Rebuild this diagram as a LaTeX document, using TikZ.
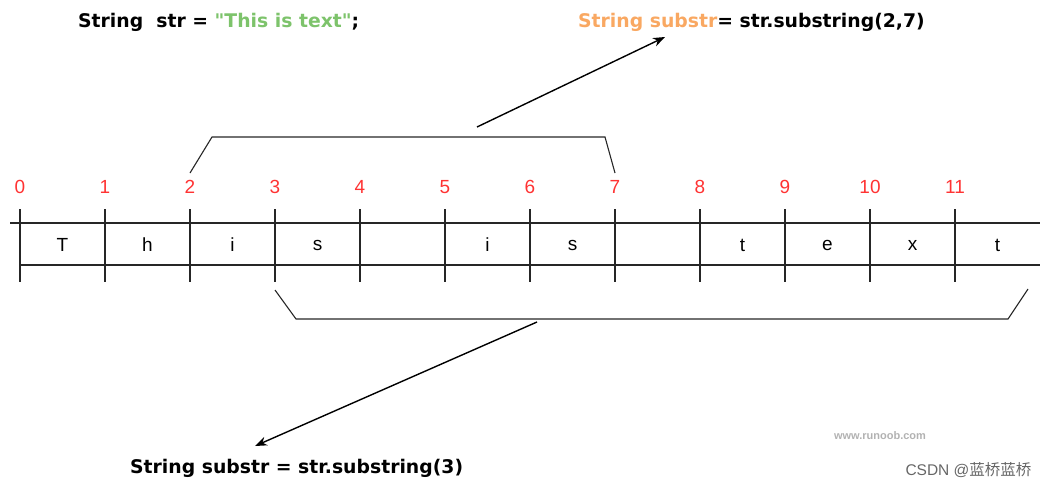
\documentclass[tikz,border=0pt]{standalone}
\usepackage{fontspec}
\usetikzlibrary{arrows.meta}
\setmainfont{Liberation Sans}
\newfontfamily\codefont{DejaVu Sans}
\newfontfamily\cjk{Noto Sans CJK SC}
\definecolor{idxred}{HTML}{FF3333}
\definecolor{strgreen}{HTML}{7DC36B}
\definecolor{varorange}{HTML}{F9A862}
\begin{document}
\begin{tikzpicture}[x=1pt,y=-1pt,
  ln/.style={line width=1.1pt,black!85},
  code/.style={font=\codefont\bfseries\fontsize{18.8}{20}\selectfont,inner sep=0pt,anchor=west},
  idx/.style={text=idxred,font=\fontsize{19}{20}\selectfont,inner sep=0pt},
  chr/.style={font=\fontsize{19}{20}\selectfont,inner sep=0pt},
  arr/.style={line width=1.4pt,-{Stealth[length=12pt,width=9pt]}}]
\useasboundingbox (0,0) rectangle (1050,490);
\draw[ln] (10,223) -- (1040,223);
\draw[ln] (20,265) -- (1040,265);
\foreach \i in {0,...,11}{
  \draw[ln] (20+85*\i,209) -- (20+85*\i,282);
  \node[idx] (n\i) at (20+85*\i,187) {\i};
}
\foreach \c [count=\k from 0] in {T,h,i,s,{},i,s,{},t,e,x,t}{
  \node[chr] (c\k) at (62.5+85*\k,245) {\c};
}
\draw[ln] (190,173) -- (212,137) -- (605,137) -- (615,173);
\draw[ln] (275,290) -- (296,319) -- (1008,319) -- (1028,289);
\node[code] (s1) at (78,22) {String\ \ str = \textcolor{strgreen}{"This is text"};};
\node[code] (s2) at (578,22) {\textcolor{varorange}{String substr}= str.substring(2,7)};
\node[code] (s3) at (130,468) {String substr = str.substring(3)};
\coordinate (a1) at (477,127);
\coordinate (a2) at (537,322);
\draw[arr] (a1) -- (665,37);
\draw[arr] (a2) -- (255,446);
\node[font=\bfseries\fontsize{11}{12}\selectfont,text=black!30] (w) at (880,436) {www.runoob.com};
\node[font=\fontsize{15.5}{16}\selectfont,text=black!60,anchor=east] (csdn) at (1035,470) {CSDN @\cjk 蓝桥蓝桥};
\end{tikzpicture}
\end{document}
